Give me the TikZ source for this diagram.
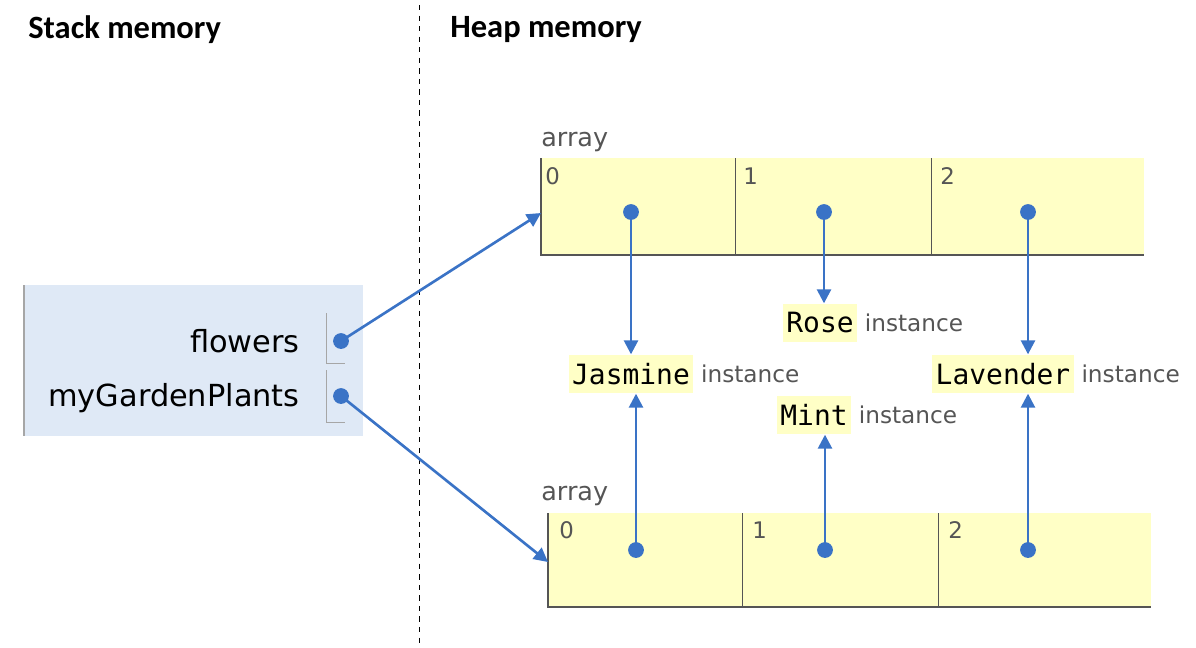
\documentclass[tikz,border=0pt]{standalone}
\usepackage{fontspec}
\setmainfont{DejaVu Sans}
\newfontfamily\calib{Carlito}
\newfontfamily\mono{DejaVu Sans Mono}
\usetikzlibrary{arrows.meta}
\definecolor{ptr}{HTML}{3A73C6}
\definecolor{yel}{HTML}{FFFFC6}
\definecolor{stk}{HTML}{DFE9F6}
\definecolor{gr}{HTML}{555555}
\begin{document}
\begin{tikzpicture}[x=0.02cm,y=-0.02cm,
  head/.style={font=\calib\bfseries\fontsize{18.5}{22}\selectfont,anchor=west,inner sep=0},
  var/.style={font=\fontsize{17.3}{20}\selectfont,anchor=east,inner sep=0},
  idx/.style={font=\fontsize{13}{15}\selectfont,text=gr,anchor=north west,inner sep=0},
  dot/.style={circle,fill=ptr,inner sep=0,minimum size=9pt},
  inst/.style={fill=yel,font=\mono\fontsize{15.9}{18}\selectfont,inner sep=2pt,minimum height=22pt},
  itxt/.style={font=\fontsize{13.2}{15}\selectfont,text=gr,anchor=west,inner sep=0},
  arr/.style={draw=ptr,line width=1.5pt,-{Triangle[length=8pt,width=8pt]}}]
\useasboundingbox (0,0) rectangle (1196,647);
\node[head] (hs) at (28,30) {Stack memory};
\node[head] (hh) at (450,30) {Heap memory};
\draw[dashed] (419,5) -- (419,647);
% stack
\fill[stk] (24,285) rectangle (363,436);
\draw[gray!70,line width=1pt] (24,285) -- (24,436);
\node[var] (vf) at (300,341) {flowers};
\node[var] (vm) at (300,398) {myGardenPlants};
\draw[gray!70] (326,313) -- (326,363) -- (345,363);
\draw[gray!70] (326,370) -- (326,422) -- (345,422);
\node[dot] (df) at (341,341) {};
\node[dot] (dm) at (341,396) {};
% array 1
\node[idx,anchor=south west,font=\fontsize{14.5}{17}\selectfont] (a1) at (541,152) {array};
\fill[yel] (541,158) rectangle (1144,255);
\draw[gr,line width=1.2pt] (541,158) -- (541,255) -- (1144,255);
\draw[gr] (735,158) -- (735,255) (931,158) -- (931,255);
\node[idx] (a10) at (545,167) {0};
\node[idx] (a11) at (743,167) {1};
\node[idx] (a12) at (940,167) {2};
\node[dot] (p10) at (631,212) {};
\node[dot] (p11) at (824,212) {};
\node[dot] (p12) at (1028,212) {};
\coordinate (t1) at (541,213);
% array 2
\node[idx,anchor=south west,font=\fontsize{14.5}{17}\selectfont] (a2) at (541,506) {array};
\fill[yel] (548,513) rectangle (1151,607);
\draw[gr,line width=1.2pt] (548,513) -- (548,607) -- (1151,607);
\draw[gr] (742,513) -- (742,607) (938,513) -- (938,607);
\node[idx] (a20) at (559,521) {0};
\node[idx] (a21) at (752,521) {1};
\node[idx] (a22) at (948,521) {2};
\node[dot] (p20) at (636,550) {};
\node[dot] (p21) at (825,550) {};
\node[dot] (p22) at (1028,550) {};
\coordinate (t2) at (548,562);
% instances
\node[inst] (rose) at (820,323) {Rose};
\node[itxt] (rosei) at (rose.east) [xshift=4pt] {instance};
\node[inst] (jas) at (631,374) {Jasmine};
\node[itxt] (jasi) at (jas.east) [xshift=4pt] {instance};
\node[inst] (lav) at (1003,374) {Lavender};
\node[itxt] (lavi) at (lav.east) [xshift=4pt] {instance};
\node[inst] (mint) at (814,415) {Mint};
\node[itxt] (minti) at (mint.east) [xshift=4pt] {instance};
% arrows
\draw[arr] (df.center) -- (t1);
\draw[arr] (dm.center) -- (t2);
\draw[arr] (p10.center) -- (p10.center |- jas.north);
\draw[arr] (p11.center) -- (p11.center |- rose.north);
\draw[arr] (p12.center) -- (p12.center |- lav.north);
\draw[arr] (p20.center) -- (p20.center |- jas.south);
\draw[arr] (p21.center) -- (p21.center |- mint.south);
\draw[arr] (p22.center) -- (p22.center |- lav.south);
\end{tikzpicture}
\end{document}
